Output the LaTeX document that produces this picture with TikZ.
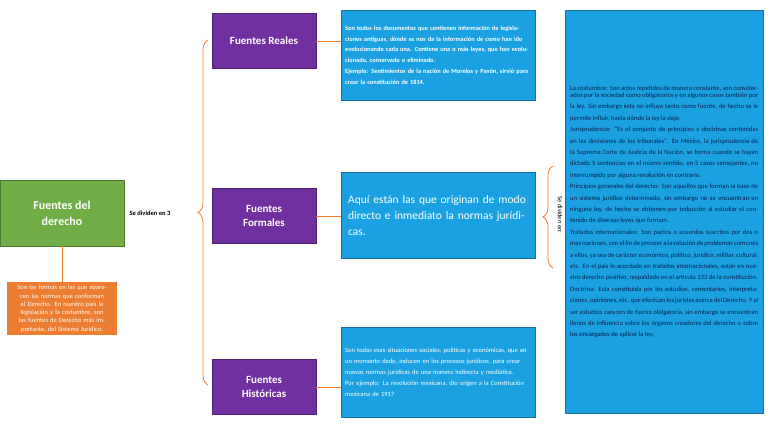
\documentclass[tikz,border=0pt]{standalone}
\usepackage{fontspec}
\setmainfont{Carlito}
\usetikzlibrary{decorations.pathreplacing}
\definecolor{cblue}{HTML}{1BA1E2}
\definecolor{cpurple}{HTML}{7030A0}
\definecolor{cgreen}{HTML}{70AD47}
\definecolor{corange}{HTML}{ED7D31}
\definecolor{cnavy}{HTML}{0A1F4D}
\begin{document}
\begin{tikzpicture}[x=1pt,y=-1pt,
  pbox/.style={fill=cpurple,draw=cpurple!70!black,minimum width=104pt,minimum height=55pt,text=white,font=\bfseries\fontsize{11}{14}\selectfont,align=center,inner sep=2pt},
  bbox/.style={fill=cblue,draw=cblue!70!black,text width=186pt,inner sep=4pt,anchor=north west,text=white},
  conn/.style={draw=corange,line width=0.8pt},
  brc/.style={draw=corange,line width=0.8pt,decorate,decoration={brace,amplitude=10pt}}]
\useasboundingbox (0,0) rectangle (768,433);
\node[fill=cgreen,draw=cgreen!70!black,minimum width=124pt,minimum height=66pt,text=white,font=\bfseries\fontsize{12}{16}\selectfont,align=center] (main) at (62,213) {Fuentes del\\derecho};
\node[fill=corange,text width=104pt,inner sep=3pt,align=center,text=white,font=\fontsize{6.5}{8.3}\selectfont,anchor=north] (def) at (62,282) {Son las formas en las que aparecen las normas que conforman el Derecho. En nuestro país la legislación y la costumbre, son las fuentes de Derecho más importante, del Sistema Jurídico.};
\draw[conn] (main.south) -- (def.north);
\node[font=\fontsize{6.5}{8}\selectfont\bfseries,anchor=west] (sd) at (126,213) {Se dividen en 3};
\coordinate (b1t) at (208,40);
\coordinate (b1b) at (208,385);
\draw[brc] (b1b) -- (b1t);
\node[pbox] (pr) at (264,41) {Fuentes Reales};
\node[pbox] (pf) at (264,216) {Fuentes\\Formales};
\node[pbox] (ph) at (264,387) {Fuentes\\Históricas};
\node[bbox,minimum height=90pt,font=\bfseries\fontsize{6.3}{10.8}\selectfont] (br) at (341,10) {Son todos los documentos que contienen información de legislaciones antiguas, dónde se nos da la información de como han ido evolucionando cada una. Contiene una o más leyes, que han evolucionado, conservado o eliminado.\\Ejemplo: Sentimientos de la nación de Morelos y Pavón, sirvió para crear la constitución de 1814.};
\node[bbox,minimum height=86pt,font=\fontsize{11.5}{16}\selectfont,text width=180pt,inner sep=7pt] (bf) at (341,172) {Aquí están las que originan de modo directo e inmediato la normas jurídicas.};
\node[bbox,minimum height=90pt,font=\fontsize{6.5}{10.8}\selectfont] (bh) at (341,327) {Son todas esas situaciones sociales, políticas y económicas, que en un momento dado, inducen en los procesos jurídicos, para crear nuevas normas jurídicas de una manera indirecta y mediática.\\Por ejemplo: La revolución mexicana, dio origen a la Constitución mexicana de 1917};
\draw[conn] (pr.east) -- (pr.east -| br.west);
\draw[conn] (pf.east) -- (pf.east -| bf.west);
\draw[conn] (ph.east) -- (ph.east -| bh.west);
\coordinate (b2t) at (553,166);
\coordinate (b2b) at (553,268);
\draw[brc] (b2b) -- (b2t);
\node[rotate=-90,font=\fontsize{6.5}{8}\selectfont] (sd2) at (560,215) {Se dividen en:};
\node[fill=cblue,draw=cblue!70!black,anchor=north west,text width=188pt,minimum height=403pt,inner sep=5pt,text=cnavy,align=justify,font=\fontsize{6.6}{11.4}\selectfont] (big) at (565,10) {\vspace{-4pt}La costumbre: Son actos repetidos de manera constante, son considerados por la sociedad como obligatorios y en algunos casos también por la ley. Sin embargo ésta no influye tanto como fuente, de hecho se le permite influir, hasta dónde la ley la deje.\\
Jurisprudencia: “Es el conjunto de principios y doctrinas contenidas en las decisiones de los tribunales”. En México, la jurisprudencia de la Suprema Corte de Justicia de la Nación, se forma cuando se hayan dictado 5 sentencias en el mismo sentido, en 5 casos semejantes, no interrumpido por alguna resolución en contrario.\\
Principios generales del derecho: Son aquellos que forman la base de un sistema jurídico determinado, sin embargo no se encuentran en ninguna ley, de hecho se obtienen por inducción al estudiar el contenido de diversas leyes que forman.\\
Tratados internacionales: Son pactos o acuerdos suscritos por dos o mas naciones, con el fin de proveer a la solución de problemas comunes a ellos, ya sea de carácter económico, político, jurídico, militar, cultural, etc. En el país lo acordado en tratados internacionales, están en nuestro derecho positivo, respaldado en el artículo 133 de la constitución.\\
Doctrina: Esta constituida por los estudios, comentarios, interpretaciones, opiniones, etc. que efectúan los juristas acerca del Derecho. Y al ser estudios carecen de fuerza obligatoria, sin embargo se encuentran llenos de influencia sobre los órganos creadores del derecho o sobre los encargados de aplicar la ley.};
\end{tikzpicture}
\end{document}
